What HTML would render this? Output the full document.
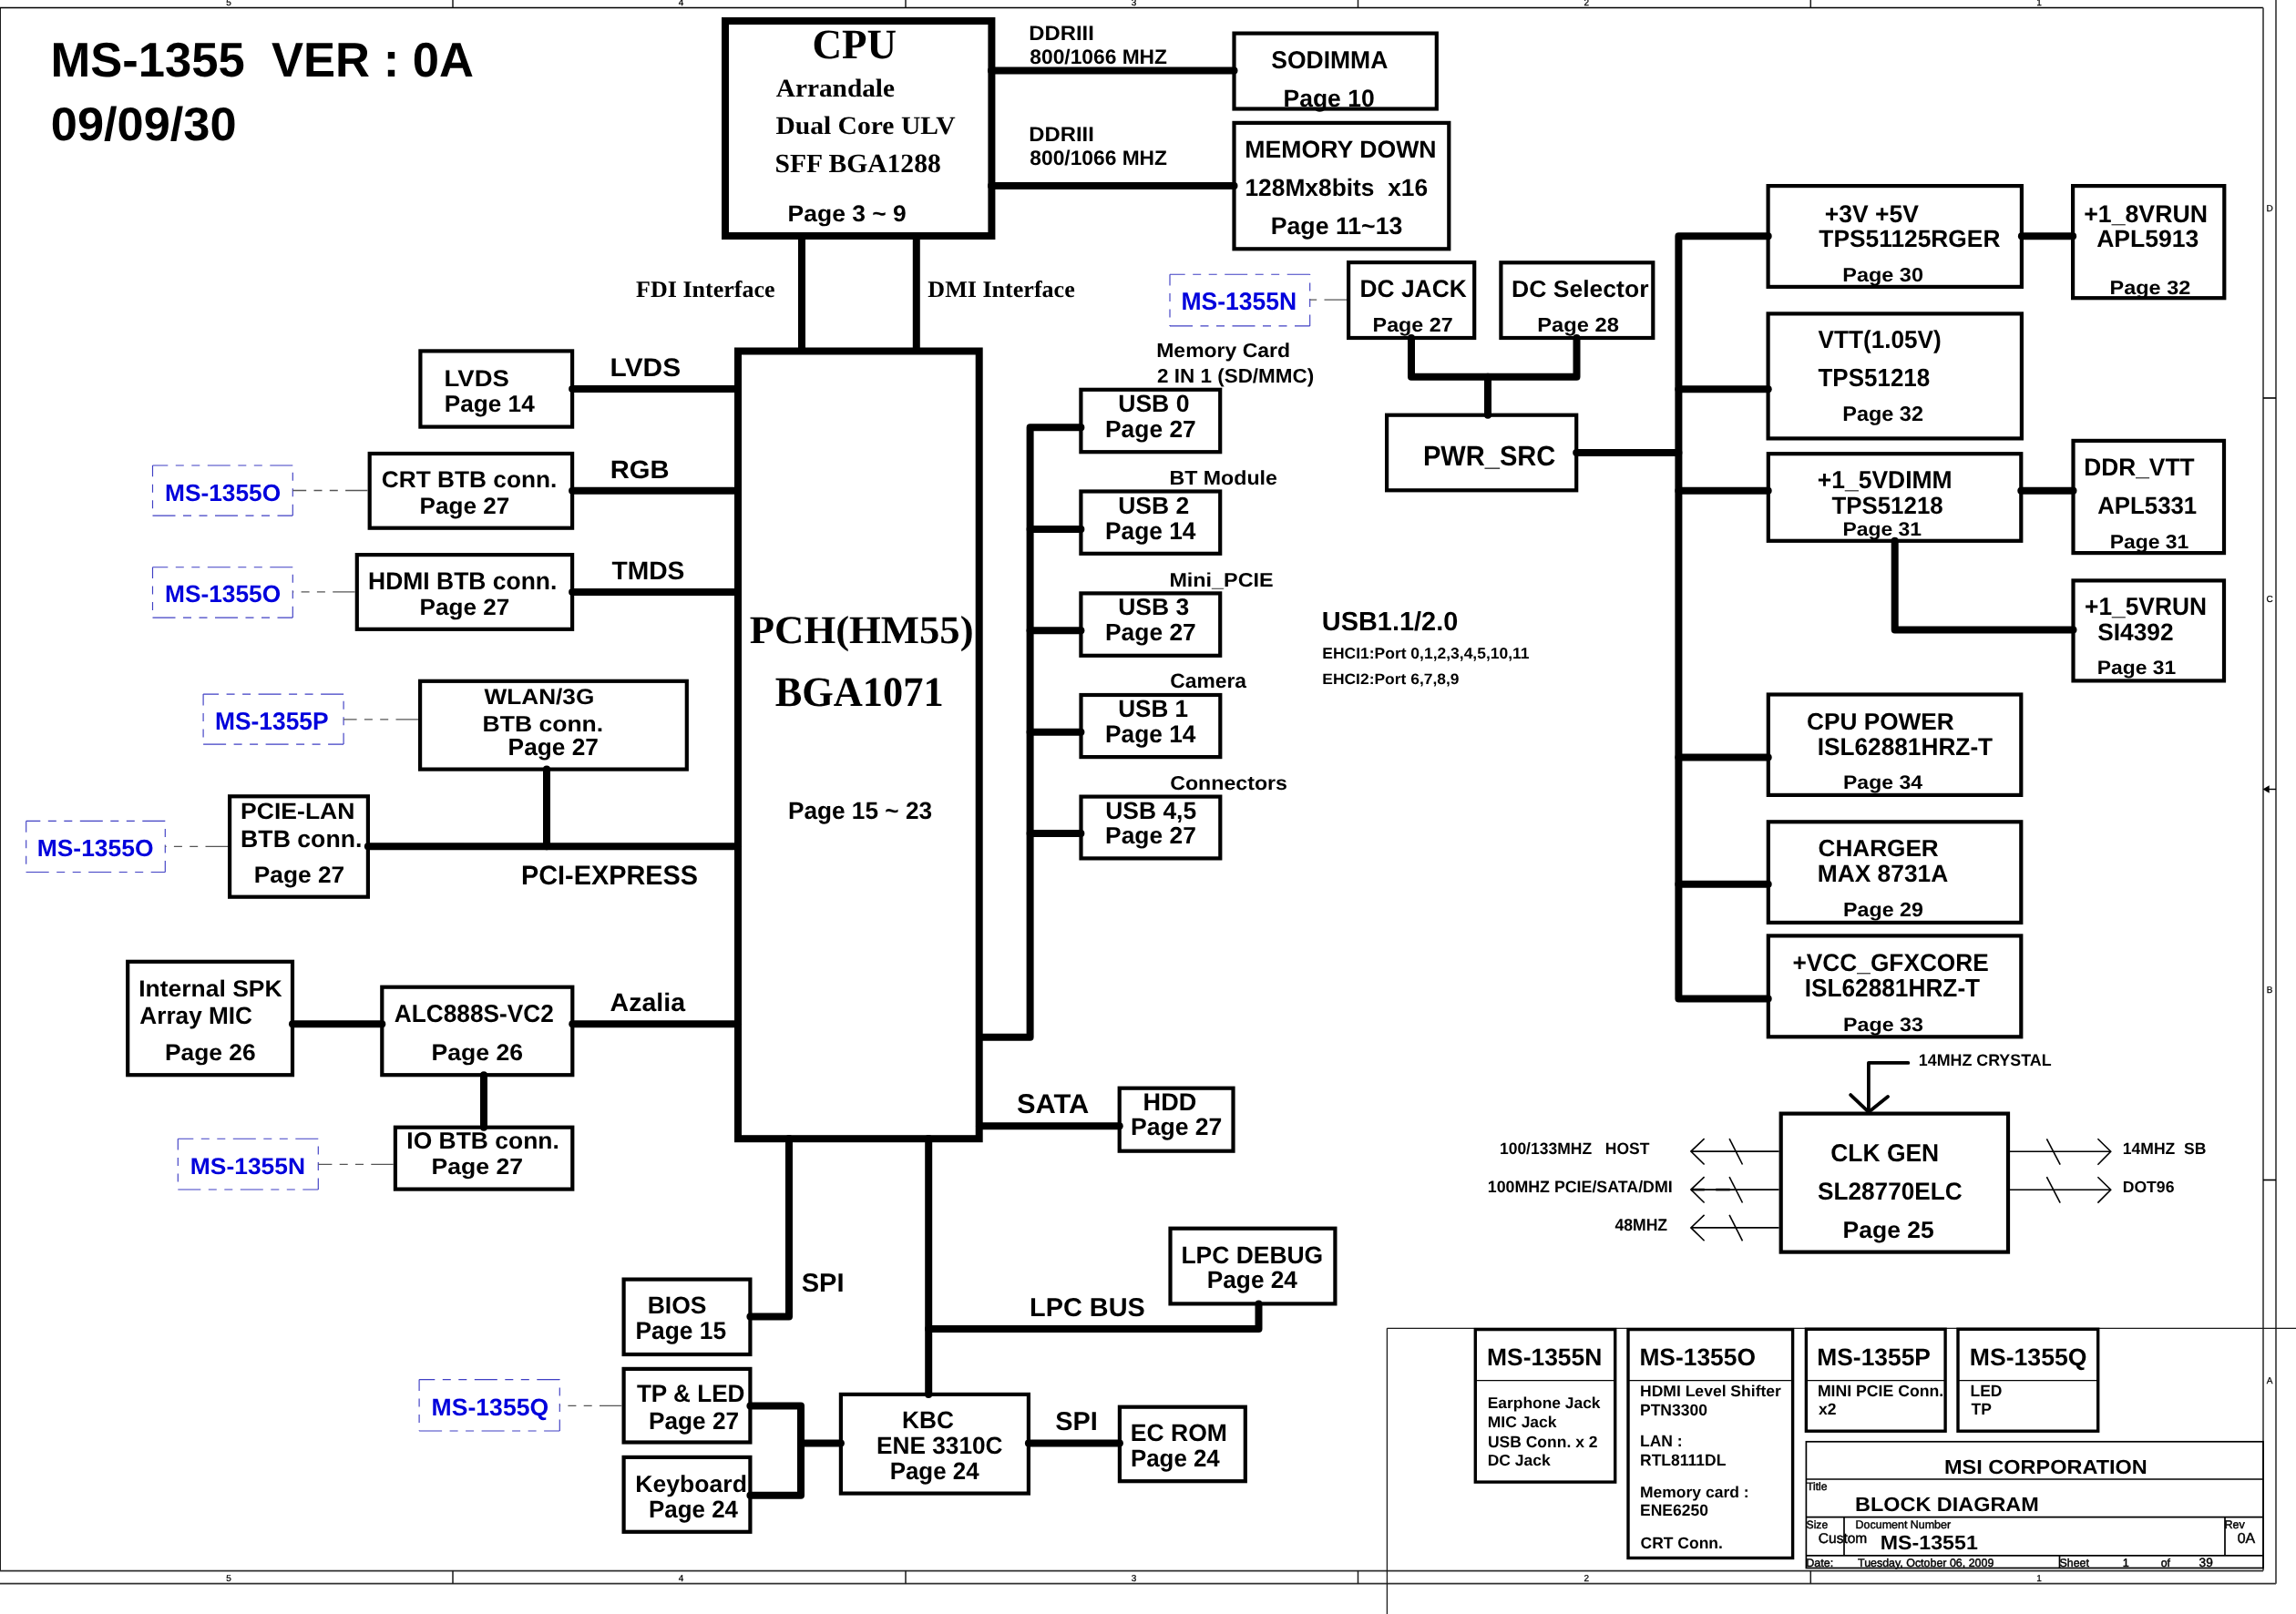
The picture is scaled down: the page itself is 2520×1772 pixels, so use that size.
<!DOCTYPE html>
<html><head><meta charset="utf-8"><title>MS-1355 Block Diagram</title>
<style>html,body{margin:0;padding:0;background:#fff;}svg{display:block;white-space:pre;will-change:transform;}</style></head>
<body><svg width="2520" height="1772" viewBox="0 0 2520 1772" text-rendering="geometricPrecision">
<rect x="0" y="0" width="2520" height="1772" fill="#fff"/>
<line x1="0" y1="8.45" x2="2484" y2="8.45" stroke="#000" stroke-width="1.35" stroke-linecap="butt" />
<line x1="0.45" y1="8" x2="0.45" y2="1724.8" stroke="#000" stroke-width="0.95" stroke-linecap="butt" />
<line x1="0" y1="1724.6" x2="2484" y2="1724.6" stroke="#303030" stroke-width="1.6" stroke-linecap="butt" />
<line x1="0" y1="1738.7" x2="2498" y2="1738.7" stroke="#303030" stroke-width="1.8" stroke-linecap="butt" />
<line x1="2484" y1="8.5" x2="2484" y2="1724.6" stroke="#4a4a4a" stroke-width="1.8" stroke-linecap="butt" />
<line x1="2498" y1="0" x2="2498" y2="1738.7" stroke="#4a4a4a" stroke-width="1.8" stroke-linecap="butt" />
<line x1="497" y1="0" x2="497" y2="8.5" stroke="#1a1a1a" stroke-width="1.5" stroke-linecap="butt" />
<line x1="497" y1="1724.6" x2="497" y2="1738.7" stroke="#1a1a1a" stroke-width="1.5" stroke-linecap="butt" />
<line x1="994" y1="0" x2="994" y2="8.5" stroke="#1a1a1a" stroke-width="1.5" stroke-linecap="butt" />
<line x1="994" y1="1724.6" x2="994" y2="1738.7" stroke="#1a1a1a" stroke-width="1.5" stroke-linecap="butt" />
<line x1="1490.5" y1="0" x2="1490.5" y2="8.5" stroke="#1a1a1a" stroke-width="1.5" stroke-linecap="butt" />
<line x1="1490.5" y1="1724.6" x2="1490.5" y2="1738.7" stroke="#1a1a1a" stroke-width="1.5" stroke-linecap="butt" />
<line x1="1987.3" y1="0" x2="1987.3" y2="8.5" stroke="#1a1a1a" stroke-width="1.5" stroke-linecap="butt" />
<line x1="1987.3" y1="1724.6" x2="1987.3" y2="1738.7" stroke="#1a1a1a" stroke-width="1.5" stroke-linecap="butt" />
<line x1="2484" y1="437" x2="2498" y2="437" stroke="#000" stroke-width="1.6" stroke-linecap="butt" />
<line x1="2484" y1="1295.5" x2="2498" y2="1295.5" stroke="#000" stroke-width="1.6" stroke-linecap="butt" />
<line x1="2490" y1="866.5" x2="2498" y2="866.5" stroke="#000" stroke-width="1.4" stroke-linecap="butt" />
<polygon points="2483.5,866.5 2490.7,862.3 2490.7,870.7" fill="#000"/>
<text x="251" y="1736.3" font-family="Liberation Sans" font-size="10" text-anchor="middle" fill="#000" stroke="#000" stroke-width="0.25">5</text>
<text x="251" y="5.6" font-family="Liberation Sans" font-size="10" text-anchor="middle" fill="#000" stroke="#000" stroke-width="0.25">5</text>
<text x="747.5" y="1736.3" font-family="Liberation Sans" font-size="10" text-anchor="middle" fill="#000" stroke="#000" stroke-width="0.25">4</text>
<text x="747.5" y="5.6" font-family="Liberation Sans" font-size="10" text-anchor="middle" fill="#000" stroke="#000" stroke-width="0.25">4</text>
<text x="1244.5" y="1736.3" font-family="Liberation Sans" font-size="10" text-anchor="middle" fill="#000" stroke="#000" stroke-width="0.25">3</text>
<text x="1244.5" y="5.6" font-family="Liberation Sans" font-size="10" text-anchor="middle" fill="#000" stroke="#000" stroke-width="0.25">3</text>
<text x="1741.3" y="1736.3" font-family="Liberation Sans" font-size="10" text-anchor="middle" fill="#000" stroke="#000" stroke-width="0.25">2</text>
<text x="1741.3" y="5.6" font-family="Liberation Sans" font-size="10" text-anchor="middle" fill="#000" stroke="#000" stroke-width="0.25">2</text>
<text x="2238" y="1736.3" font-family="Liberation Sans" font-size="10" text-anchor="middle" fill="#000" stroke="#000" stroke-width="0.25">1</text>
<text x="2238" y="5.6" font-family="Liberation Sans" font-size="10" text-anchor="middle" fill="#000" stroke="#000" stroke-width="0.25">1</text>
<text x="2491" y="232.4" font-family="Liberation Sans" font-size="10" text-anchor="middle" fill="#000" stroke="#000" stroke-width="0.25">D</text>
<text x="2491" y="660.7" font-family="Liberation Sans" font-size="10" text-anchor="middle" fill="#000" stroke="#000" stroke-width="0.25">C</text>
<text x="2491" y="1090.3" font-family="Liberation Sans" font-size="10" text-anchor="middle" fill="#000" stroke="#000" stroke-width="0.25">B</text>
<text x="2491" y="1519.1" font-family="Liberation Sans" font-size="10" text-anchor="middle" fill="#000" stroke="#000" stroke-width="0.25">A</text>
<line x1="1522.4" y1="1458.3" x2="2520" y2="1458.3" stroke="#1a1a1a" stroke-width="1.3" stroke-linecap="butt" />
<line x1="1522.4" y1="1458.3" x2="1522.4" y2="1772" stroke="#1a1a1a" stroke-width="1.3" stroke-linecap="butt" />
<rect x="796.00" y="23.00" width="292.40" height="236.00" fill="none" stroke="#000" stroke-width="8"/>
<rect x="810.00" y="385.50" width="264.70" height="864.70" fill="none" stroke="#000" stroke-width="8"/>
<rect x="1354.50" y="36.60" width="222.30" height="82.90" fill="none" stroke="#000" stroke-width="4.2"/>
<rect x="1354.50" y="134.90" width="235.80" height="138.40" fill="none" stroke="#000" stroke-width="4.2"/>
<rect x="1480.10" y="288.10" width="138.10" height="82.90" fill="none" stroke="#000" stroke-width="4.2"/>
<rect x="1647.40" y="288.30" width="166.90" height="82.70" fill="none" stroke="#000" stroke-width="4.2"/>
<rect x="1522.10" y="455.70" width="208.10" height="82.60" fill="none" stroke="#000" stroke-width="4.2"/>
<rect x="1940.60" y="204.10" width="278.30" height="110.80" fill="none" stroke="#000" stroke-width="4.2"/>
<rect x="2275.10" y="204.10" width="166.20" height="123.10" fill="none" stroke="#000" stroke-width="4.2"/>
<rect x="1940.60" y="344.40" width="278.30" height="137.00" fill="none" stroke="#000" stroke-width="4.2"/>
<rect x="1940.80" y="498.20" width="277.50" height="95.60" fill="none" stroke="#000" stroke-width="4.2"/>
<rect x="2275.50" y="483.90" width="165.50" height="123.20" fill="none" stroke="#000" stroke-width="4.2"/>
<rect x="2275.50" y="637.40" width="165.50" height="110.00" fill="none" stroke="#000" stroke-width="4.2"/>
<rect x="1940.80" y="762.50" width="277.50" height="110.40" fill="none" stroke="#000" stroke-width="4.2"/>
<rect x="1940.80" y="902.30" width="277.50" height="110.60" fill="none" stroke="#000" stroke-width="4.2"/>
<rect x="1940.80" y="1027.40" width="277.50" height="110.90" fill="none" stroke="#000" stroke-width="4.2"/>
<rect x="1954.70" y="1222.60" width="249.30" height="152.00" fill="none" stroke="#000" stroke-width="4.2"/>
<rect x="461.40" y="385.40" width="166.70" height="83.20" fill="none" stroke="#000" stroke-width="4.2"/>
<rect x="405.70" y="498.00" width="222.40" height="81.70" fill="none" stroke="#000" stroke-width="4.2"/>
<rect x="391.80" y="609.10" width="236.30" height="81.70" fill="none" stroke="#000" stroke-width="4.2"/>
<rect x="461.10" y="747.80" width="292.70" height="96.80" fill="none" stroke="#000" stroke-width="4.2"/>
<rect x="252.10" y="874.30" width="151.80" height="110.40" fill="none" stroke="#000" stroke-width="4.2"/>
<rect x="140.20" y="1055.80" width="180.80" height="124.40" fill="none" stroke="#000" stroke-width="4.2"/>
<rect x="419.30" y="1083.70" width="209.00" height="96.50" fill="none" stroke="#000" stroke-width="4.2"/>
<rect x="433.90" y="1237.70" width="194.40" height="67.90" fill="none" stroke="#000" stroke-width="4.2"/>
<rect x="1186.40" y="427.80" width="152.80" height="68.40" fill="none" stroke="#000" stroke-width="4.2"/>
<rect x="1186.40" y="539.50" width="152.80" height="68.30" fill="none" stroke="#000" stroke-width="4.2"/>
<rect x="1186.40" y="651.40" width="152.80" height="68.40" fill="none" stroke="#000" stroke-width="4.2"/>
<rect x="1186.50" y="763.00" width="152.80" height="68.10" fill="none" stroke="#000" stroke-width="4.2"/>
<rect x="1186.50" y="874.60" width="152.80" height="67.80" fill="none" stroke="#000" stroke-width="4.2"/>
<rect x="1228.70" y="1194.70" width="124.80" height="69.00" fill="none" stroke="#000" stroke-width="4.2"/>
<rect x="1284.50" y="1348.70" width="180.90" height="82.70" fill="none" stroke="#000" stroke-width="4.2"/>
<rect x="684.60" y="1404.60" width="138.80" height="82.40" fill="none" stroke="#000" stroke-width="4.2"/>
<rect x="684.60" y="1502.90" width="138.80" height="80.60" fill="none" stroke="#000" stroke-width="4.2"/>
<rect x="684.60" y="1599.90" width="138.80" height="81.90" fill="none" stroke="#000" stroke-width="4.2"/>
<rect x="922.90" y="1530.90" width="206.00" height="108.70" fill="none" stroke="#000" stroke-width="4.2"/>
<rect x="1228.90" y="1544.70" width="137.90" height="81.50" fill="none" stroke="#000" stroke-width="4.2"/>
<rect x="1619.30" y="1459.60" width="153.40" height="167.50" fill="none" stroke="#000" stroke-width="3.4"/>
<line x1="1619.6" y1="1515.6" x2="1772.4" y2="1515.6" stroke="#000" stroke-width="1.3" stroke-linecap="butt" />
<rect x="1787.00" y="1459.60" width="180.60" height="250.90" fill="none" stroke="#000" stroke-width="3.4"/>
<line x1="1787.3" y1="1515.6" x2="1967.3" y2="1515.6" stroke="#000" stroke-width="1.3" stroke-linecap="butt" />
<rect x="1982.40" y="1459.30" width="152.70" height="111.90" fill="none" stroke="#000" stroke-width="3.4"/>
<line x1="1982.7" y1="1515.6" x2="2134.8" y2="1515.6" stroke="#000" stroke-width="1.3" stroke-linecap="butt" />
<rect x="2149.00" y="1459.30" width="153.70" height="111.90" fill="none" stroke="#000" stroke-width="3.4"/>
<line x1="2149.3" y1="1515.6" x2="2302.4" y2="1515.6" stroke="#000" stroke-width="1.3" stroke-linecap="butt" />
<rect x="1982.4" y="1582.8" width="501.5999999999999" height="138.70000000000005" fill="none" stroke="#000" stroke-width="1.7"/>
<line x1="1982.4" y1="1624" x2="2484" y2="1624" stroke="#000" stroke-width="1.7" stroke-linecap="butt" />
<line x1="1982.4" y1="1665.7" x2="2484" y2="1665.7" stroke="#000" stroke-width="1.7" stroke-linecap="butt" />
<line x1="1982.4" y1="1707.8" x2="2484" y2="1707.8" stroke="#000" stroke-width="1.7" stroke-linecap="butt" />
<line x1="2024" y1="1665.7" x2="2024" y2="1707.8" stroke="#000" stroke-width="1.7" stroke-linecap="butt" />
<line x1="2442" y1="1665.7" x2="2442" y2="1707.8" stroke="#000" stroke-width="1.7" stroke-linecap="butt" />
<line x1="2260.5" y1="1707.8" x2="2260.5" y2="1721.5" stroke="#000" stroke-width="1.7" stroke-linecap="butt" />
<line x1="1437.7" y1="301.2" x2="1284" y2="301.2" stroke="#3f3fc4" stroke-width="1.15" stroke-dasharray="25 8.5 9 8.5 9 8.5"/>
<line x1="1284" y1="357.9" x2="1437.7" y2="357.9" stroke="#3f3fc4" stroke-width="1.15" stroke-dasharray="25 8.5 9 8.5 9 8.5"/>
<line x1="1284" y1="301.2" x2="1284" y2="357.9" stroke="#3f3fc4" stroke-width="1.15" stroke-dasharray="25 8.5 9 8.5 9 8.5" stroke-dashoffset="12.7"/>
<line x1="1437.7" y1="357.9" x2="1437.7" y2="301.2" stroke="#3f3fc4" stroke-width="1.15" stroke-dasharray="25 8.5 9 8.5 9 8.5" stroke-dashoffset="12.6"/>
<line x1="1478" y1="329.1" x2="1437.7" y2="329.1" stroke="#555" stroke-width="1.3" stroke-dasharray="24.5 8.3 9 8.3 9 8.3"/>
<line x1="321.3" y1="511" x2="167.5" y2="511" stroke="#3f3fc4" stroke-width="1.15" stroke-dasharray="25 8.5 9 8.5 9 8.5"/>
<line x1="167.5" y1="566.1" x2="321.3" y2="566.1" stroke="#3f3fc4" stroke-width="1.15" stroke-dasharray="25 8.5 9 8.5 9 8.5"/>
<line x1="167.5" y1="511" x2="167.5" y2="566.1" stroke="#3f3fc4" stroke-width="1.15" stroke-dasharray="25 8.5 9 8.5 9 8.5" stroke-dashoffset="12.7"/>
<line x1="321.3" y1="566.1" x2="321.3" y2="511" stroke="#3f3fc4" stroke-width="1.15" stroke-dasharray="25 8.5 9 8.5 9 8.5" stroke-dashoffset="12.6"/>
<line x1="403.6" y1="538.5" x2="321.3" y2="538.5" stroke="#555" stroke-width="1.3" stroke-dasharray="24.5 8.3 9 8.3 9 8.3"/>
<line x1="321.3" y1="622.7" x2="167.5" y2="622.7" stroke="#3f3fc4" stroke-width="1.15" stroke-dasharray="25 8.5 9 8.5 9 8.5"/>
<line x1="167.5" y1="678.1" x2="321.3" y2="678.1" stroke="#3f3fc4" stroke-width="1.15" stroke-dasharray="25 8.5 9 8.5 9 8.5"/>
<line x1="167.5" y1="622.7" x2="167.5" y2="678.1" stroke="#3f3fc4" stroke-width="1.15" stroke-dasharray="25 8.5 9 8.5 9 8.5" stroke-dashoffset="12.7"/>
<line x1="321.3" y1="678.1" x2="321.3" y2="622.7" stroke="#3f3fc4" stroke-width="1.15" stroke-dasharray="25 8.5 9 8.5 9 8.5" stroke-dashoffset="12.6"/>
<line x1="389.7" y1="649.9" x2="321.3" y2="649.9" stroke="#555" stroke-width="1.3" stroke-dasharray="24.5 8.3 9 8.3 9 8.3"/>
<line x1="377.1" y1="762.1" x2="223.1" y2="762.1" stroke="#3f3fc4" stroke-width="1.15" stroke-dasharray="25 8.5 9 8.5 9 8.5"/>
<line x1="223.1" y1="817.1" x2="377.1" y2="817.1" stroke="#3f3fc4" stroke-width="1.15" stroke-dasharray="25 8.5 9 8.5 9 8.5"/>
<line x1="223.1" y1="762.1" x2="223.1" y2="817.1" stroke="#3f3fc4" stroke-width="1.15" stroke-dasharray="25 8.5 9 8.5 9 8.5" stroke-dashoffset="12.7"/>
<line x1="377.1" y1="817.1" x2="377.1" y2="762.1" stroke="#3f3fc4" stroke-width="1.15" stroke-dasharray="25 8.5 9 8.5 9 8.5" stroke-dashoffset="12.6"/>
<line x1="459" y1="789.9" x2="377.1" y2="789.9" stroke="#555" stroke-width="1.3" stroke-dasharray="24.5 8.3 9 8.3 9 8.3"/>
<line x1="181.3" y1="901.4" x2="28.7" y2="901.4" stroke="#3f3fc4" stroke-width="1.15" stroke-dasharray="25 8.5 9 8.5 9 8.5"/>
<line x1="28.7" y1="957.5" x2="181.3" y2="957.5" stroke="#3f3fc4" stroke-width="1.15" stroke-dasharray="25 8.5 9 8.5 9 8.5"/>
<line x1="28.7" y1="901.4" x2="28.7" y2="957.5" stroke="#3f3fc4" stroke-width="1.15" stroke-dasharray="25 8.5 9 8.5 9 8.5" stroke-dashoffset="12.7"/>
<line x1="181.3" y1="957.5" x2="181.3" y2="901.4" stroke="#3f3fc4" stroke-width="1.15" stroke-dasharray="25 8.5 9 8.5 9 8.5" stroke-dashoffset="12.6"/>
<line x1="250" y1="929.3" x2="181.3" y2="929.3" stroke="#555" stroke-width="1.3" stroke-dasharray="24.5 8.3 9 8.3 9 8.3"/>
<line x1="349.3" y1="1250.2" x2="195.3" y2="1250.2" stroke="#3f3fc4" stroke-width="1.15" stroke-dasharray="25 8.5 9 8.5 9 8.5"/>
<line x1="195.3" y1="1306" x2="349.3" y2="1306" stroke="#3f3fc4" stroke-width="1.15" stroke-dasharray="25 8.5 9 8.5 9 8.5"/>
<line x1="195.3" y1="1250.2" x2="195.3" y2="1306" stroke="#3f3fc4" stroke-width="1.15" stroke-dasharray="25 8.5 9 8.5 9 8.5" stroke-dashoffset="12.7"/>
<line x1="349.3" y1="1306" x2="349.3" y2="1250.2" stroke="#3f3fc4" stroke-width="1.15" stroke-dasharray="25 8.5 9 8.5 9 8.5" stroke-dashoffset="12.6"/>
<line x1="431.8" y1="1278.4" x2="349.3" y2="1278.4" stroke="#555" stroke-width="1.3" stroke-dasharray="24.5 8.3 9 8.3 9 8.3"/>
<line x1="614.3" y1="1514.6" x2="460.1" y2="1514.6" stroke="#3f3fc4" stroke-width="1.15" stroke-dasharray="25 8.5 9 8.5 9 8.5"/>
<line x1="460.1" y1="1571" x2="614.3" y2="1571" stroke="#3f3fc4" stroke-width="1.15" stroke-dasharray="25 8.5 9 8.5 9 8.5"/>
<line x1="460.1" y1="1514.6" x2="460.1" y2="1571" stroke="#3f3fc4" stroke-width="1.15" stroke-dasharray="25 8.5 9 8.5 9 8.5" stroke-dashoffset="12.7"/>
<line x1="614.3" y1="1571" x2="614.3" y2="1514.6" stroke="#3f3fc4" stroke-width="1.15" stroke-dasharray="25 8.5 9 8.5 9 8.5" stroke-dashoffset="12.6"/>
<line x1="682.5" y1="1543.4" x2="614.3" y2="1543.4" stroke="#555" stroke-width="1.3" stroke-dasharray="24.5 8.3 9 8.3 9 8.3"/>
<polyline points="1088,77.6 1354.5,77.6" fill="none" stroke="#000" stroke-width="8" stroke-linecap="round" stroke-linejoin="round"/>
<polyline points="1088,204 1354.5,204" fill="none" stroke="#000" stroke-width="8" stroke-linecap="round" stroke-linejoin="round"/>
<polyline points="880,260 880,385" fill="none" stroke="#000" stroke-width="8" stroke-linecap="butt" stroke-linejoin="round"/>
<polyline points="1005.8,260 1005.8,385" fill="none" stroke="#000" stroke-width="8" stroke-linecap="butt" stroke-linejoin="round"/>
<polyline points="628.1,427 810,427" fill="none" stroke="#000" stroke-width="8" stroke-linecap="round" stroke-linejoin="round"/>
<polyline points="628.1,538.8 810,538.8" fill="none" stroke="#000" stroke-width="8" stroke-linecap="round" stroke-linejoin="round"/>
<polyline points="628.1,650 810,650" fill="none" stroke="#000" stroke-width="8" stroke-linecap="round" stroke-linejoin="round"/>
<polyline points="600,844.6 600,929.3" fill="none" stroke="#000" stroke-width="8" stroke-linecap="round" stroke-linejoin="round"/>
<polyline points="403.9,929.3 810,929.3" fill="none" stroke="#000" stroke-width="8" stroke-linecap="round" stroke-linejoin="round"/>
<polyline points="321,1124.3 419.3,1124.3" fill="none" stroke="#000" stroke-width="8" stroke-linecap="round" stroke-linejoin="round"/>
<polyline points="628.3,1124.3 810,1124.3" fill="none" stroke="#000" stroke-width="8" stroke-linecap="round" stroke-linejoin="round"/>
<polyline points="531,1180.2 531,1237.7" fill="none" stroke="#000" stroke-width="8" stroke-linecap="round" stroke-linejoin="round"/>
<polyline points="1186.4,469.2 1130.6,469.2 1130.6,1138.7 1075,1138.7" fill="none" stroke="#000" stroke-width="8" stroke-linecap="round" stroke-linejoin="round"/>
<polyline points="1130.6,580.9 1186.4,580.9" fill="none" stroke="#000" stroke-width="8" stroke-linecap="round" stroke-linejoin="round"/>
<polyline points="1130.6,692.3 1186.4,692.3" fill="none" stroke="#000" stroke-width="8" stroke-linecap="round" stroke-linejoin="round"/>
<polyline points="1130.6,803.8 1186.4,803.8" fill="none" stroke="#000" stroke-width="8" stroke-linecap="round" stroke-linejoin="round"/>
<polyline points="1130.6,914.9 1186.4,914.9" fill="none" stroke="#000" stroke-width="8" stroke-linecap="round" stroke-linejoin="round"/>
<polyline points="1075,1236.2 1228.7,1236.2" fill="none" stroke="#000" stroke-width="8" stroke-linecap="round" stroke-linejoin="round"/>
<polyline points="866,1250 866,1445.5 823.4,1445.5" fill="none" stroke="#000" stroke-width="8" stroke-linecap="round" stroke-linejoin="round"/>
<polyline points="1019.2,1250 1019.2,1530.9" fill="none" stroke="#000" stroke-width="8" stroke-linecap="round" stroke-linejoin="round"/>
<polyline points="1019.2,1459 1381.5,1459 1381.5,1431.4" fill="none" stroke="#000" stroke-width="8" stroke-linecap="round" stroke-linejoin="round"/>
<polyline points="823.4,1543.4 879,1543.4 879,1641.7 823.4,1641.7" fill="none" stroke="#000" stroke-width="8" stroke-linecap="round" stroke-linejoin="round"/>
<polyline points="879,1584.4 922.9,1584.4" fill="none" stroke="#000" stroke-width="8" stroke-linecap="round" stroke-linejoin="round"/>
<polyline points="1128.9,1584.4 1228.9,1584.4" fill="none" stroke="#000" stroke-width="8" stroke-linecap="round" stroke-linejoin="round"/>
<polyline points="1549,371 1549,413.8 1730.5,413.8 1730.5,371" fill="none" stroke="#000" stroke-width="8" stroke-linecap="round" stroke-linejoin="round"/>
<polyline points="1633,413.8 1633,455.7" fill="none" stroke="#000" stroke-width="8" stroke-linecap="round" stroke-linejoin="round"/>
<polyline points="1730.2,496.9 1842.4,496.9" fill="none" stroke="#000" stroke-width="8" stroke-linecap="round" stroke-linejoin="round"/>
<polyline points="1940.7,259.3 1842.4,259.3 1842.4,1096.6 1940.7,1096.6" fill="none" stroke="#000" stroke-width="8" stroke-linecap="round" stroke-linejoin="round"/>
<polyline points="1842.4,427.2 1940.7,427.2" fill="none" stroke="#000" stroke-width="8" stroke-linecap="round" stroke-linejoin="round"/>
<polyline points="1842.4,538.8 1940.7,538.8" fill="none" stroke="#000" stroke-width="8" stroke-linecap="round" stroke-linejoin="round"/>
<polyline points="1842.4,831.5 1940.7,831.5" fill="none" stroke="#000" stroke-width="8" stroke-linecap="round" stroke-linejoin="round"/>
<polyline points="1842.4,970.7 1940.7,970.7" fill="none" stroke="#000" stroke-width="8" stroke-linecap="round" stroke-linejoin="round"/>
<polyline points="2218.9,259.3 2275.1,259.3" fill="none" stroke="#000" stroke-width="8" stroke-linecap="round" stroke-linejoin="round"/>
<polyline points="2218.3,538.8 2275.5,538.8" fill="none" stroke="#000" stroke-width="8" stroke-linecap="round" stroke-linejoin="round"/>
<polyline points="2079.7,593.8 2079.7,691.6 2275.5,691.6" fill="none" stroke="#000" stroke-width="8" stroke-linecap="round" stroke-linejoin="round"/>
<line x1="1855.9" y1="1264.1" x2="1952.6" y2="1264.1" stroke="#000" stroke-width="1.6" stroke-linecap="butt" />
<polyline points="1870.6,1250.1 1855.9,1264.1 1870.6,1278.5" fill="none" stroke="#000" stroke-width="1.6" stroke-linecap="butt" stroke-linejoin="miter"/>
<line x1="1898.1" y1="1250.1" x2="1912.5" y2="1278.5" stroke="#000" stroke-width="1.6" stroke-linecap="butt" />
<line x1="1855.9" y1="1306.1" x2="1952.6" y2="1306.1" stroke="#000" stroke-width="1.6" stroke-linecap="butt" />
<polyline points="1870.6,1292.1 1855.9,1306.1 1870.6,1320.5" fill="none" stroke="#000" stroke-width="1.6" stroke-linecap="butt" stroke-linejoin="miter"/>
<line x1="1898.1" y1="1292.1" x2="1912.5" y2="1320.5" stroke="#000" stroke-width="1.6" stroke-linecap="butt" />
<line x1="1855.9" y1="1347.9" x2="1952.6" y2="1347.9" stroke="#000" stroke-width="1.6" stroke-linecap="butt" />
<polyline points="1870.6,1333.9 1855.9,1347.9 1870.6,1362.3000000000002" fill="none" stroke="#000" stroke-width="1.6" stroke-linecap="butt" stroke-linejoin="miter"/>
<line x1="1898.1" y1="1333.9" x2="1912.5" y2="1362.3000000000002" stroke="#000" stroke-width="1.6" stroke-linecap="butt" />
<line x1="2206" y1="1264.3" x2="2316.7" y2="1264.3" stroke="#000" stroke-width="1.6" stroke-linecap="butt" />
<polyline points="2302.4,1250.3 2316.7,1264.3 2302.4,1278.7" fill="none" stroke="#000" stroke-width="1.6" stroke-linecap="butt" stroke-linejoin="miter"/>
<line x1="2246.4" y1="1250.3" x2="2261.2" y2="1278.7" stroke="#000" stroke-width="1.6" stroke-linecap="butt" />
<line x1="2206" y1="1306.2" x2="2316.7" y2="1306.2" stroke="#000" stroke-width="1.6" stroke-linecap="butt" />
<polyline points="2302.4,1292.2 2316.7,1306.2 2302.4,1320.6000000000001" fill="none" stroke="#000" stroke-width="1.6" stroke-linecap="butt" stroke-linejoin="miter"/>
<line x1="2246.4" y1="1292.2" x2="2261.2" y2="1320.6000000000001" stroke="#000" stroke-width="1.6" stroke-linecap="butt" />
<line x1="1856" y1="1306.1" x2="1870.8" y2="1306.1" stroke="#000" stroke-width="2.6" stroke-linecap="butt" />
<line x1="1883.2" y1="1306.1" x2="1898.8" y2="1306.1" stroke="#000" stroke-width="2.6" stroke-linecap="butt" />
<polyline points="2094.4,1166.9 2050.9,1166.9 2050.9,1221" fill="none" stroke="#000" stroke-width="3.8" stroke-linecap="round" stroke-linejoin="round"/>
<polyline points="2031.2,1202.1 2050.9,1220.9 2072,1204" fill="none" stroke="#000" stroke-width="3.8" stroke-linecap="round" stroke-linejoin="round"/>
<text transform="translate(55.5 83.8) scale(1 1.0135302347271877)" font-family="Liberation Sans" font-weight="bold" font-size="52.57" fill="#000">MS-1355  VER : 0A</text>
<text transform="translate(55.8 154.1) scale(1 0.9872116349047138)" font-family="Liberation Sans" font-weight="bold" font-size="52.34" fill="#000">09/09/30</text>
<text transform="translate(891.5 64.3) scale(1 1.025784753363228)" font-family="Liberation Serif" font-weight="bold" font-size="45.05" fill="#000">CPU</text>
<text transform="translate(851.7 105.9) scale(1 0.9582017337544527)" font-family="Liberation Serif" font-weight="bold" font-size="29.34" fill="#000">Arrandale</text>
<text transform="translate(851.4 147.0) scale(1 0.9456595531154989)" font-family="Liberation Serif" font-weight="bold" font-size="29.58" fill="#000">Dual Core ULV</text>
<text transform="translate(850.5 188.8) scale(1 0.9877658049611302)" font-family="Liberation Serif" font-weight="bold" font-size="29.60" fill="#000">SFF BGA1288</text>
<text transform="translate(864.6 242.5) scale(1 0.9554146560430936)" font-family="Liberation Sans" font-weight="bold" font-size="26.47" fill="#000">Page 3 ~ 9</text>
<text transform="translate(1129.3 43.8) scale(1 0.9481065918653568)" font-family="Liberation Sans" font-weight="bold" font-size="23.85" fill="#000">DDRIII</text>
<text transform="translate(1130.3 69.8) scale(1 0.9872909698996655)" font-family="Liberation Sans" font-weight="bold" font-size="22.79" fill="#000">800/1066 MHZ</text>
<text transform="translate(1129.3 154.8) scale(1 0.9481065918653577)" font-family="Liberation Sans" font-weight="bold" font-size="23.85" fill="#000">DDRIII</text>
<text transform="translate(1130.3 180.9) scale(1 0.9933853586027499)" font-family="Liberation Sans" font-weight="bold" font-size="22.79" fill="#000">800/1066 MHZ</text>
<text transform="translate(1395.2 74.7) scale(1 1.0234895539243367)" font-family="Liberation Sans" font-weight="bold" font-size="26.52" fill="#000">SODIMMA</text>
<text transform="translate(1408.5 117.0) scale(1 1.0086566725455637)" font-family="Liberation Sans" font-weight="bold" font-size="26.49" fill="#000">Page 10</text>
<text transform="translate(1366.3 173.0) scale(1 1.002108975245472)" font-family="Liberation Sans" font-weight="bold" font-size="26.66" fill="#000">MEMORY DOWN</text>
<text transform="translate(1366.4 215.0) scale(1 1.0065029711851108)" font-family="Liberation Sans" font-weight="bold" font-size="26.36" fill="#000">128Mx8bits  x16</text>
<text transform="translate(1394.7 256.9) scale(1 1.001078737775984)" font-family="Liberation Sans" font-weight="bold" font-size="26.69" fill="#000">Page 11~13</text>
<text transform="translate(698.1 325.9) scale(1 0.9826058201058187)" font-family="Liberation Serif" font-weight="bold" font-size="26.02" fill="#000">FDI Interface</text>
<text transform="translate(1018.3 325.9) scale(1 0.9804506590666169)" font-family="Liberation Serif" font-weight="bold" font-size="26.08" fill="#000">DMI Interface</text>
<text transform="translate(1296.4 340.4) scale(1 1.0230938841824284)" font-family="Liberation Sans" font-weight="bold" font-size="26.53" fill="#0000dc">MS-1355N</text>
<text transform="translate(1492.6 325.9) scale(1 1.019122218077833)" font-family="Liberation Sans" font-weight="bold" font-size="26.35" fill="#000">DC JACK</text>
<text transform="translate(1506.6 363.8) scale(1 0.9370994659546071)" font-family="Liberation Sans" font-weight="bold" font-size="23.32" fill="#000">Page 27</text>
<text transform="translate(1659.0 325.9) scale(1 0.9779014844804319)" font-family="Liberation Sans" font-weight="bold" font-size="26.56" fill="#000">DC Selector</text>
<text transform="translate(1687.3 363.8) scale(1 0.9213549337260684)" font-family="Liberation Sans" font-weight="bold" font-size="23.72" fill="#000">Page 28</text>
<text transform="translate(1269.2 391.8) scale(1 0.9423567617722112)" font-family="Liberation Sans" font-weight="bold" font-size="22.99" fill="#000">Memory Card</text>
<text transform="translate(1270.1 419.6) scale(1 0.9656488549618332)" font-family="Liberation Sans" font-weight="bold" font-size="22.44" fill="#000">2 IN 1 (SD/MMC)</text>
<text transform="translate(1561.9 511.2) scale(1 1.0553997194950915)" font-family="Liberation Sans" font-weight="bold" font-size="29.10" fill="#000">PWR_SRC</text>
<text transform="translate(2002.8 243.7) scale(1 1.019469026548674)" font-family="Liberation Sans" font-weight="bold" font-size="26.48" fill="#000">+3V +5V</text>
<text transform="translate(1996.3 271.2) scale(1 1.0084821428571416)" font-family="Liberation Sans" font-weight="bold" font-size="26.35" fill="#000">TPS51125RGER</text>
<text transform="translate(2022.3 308.9) scale(1 0.9194790111166401)" font-family="Liberation Sans" font-weight="bold" font-size="23.46" fill="#000">Page 30</text>
<text transform="translate(2287.2 243.7) scale(1 1.0109774436090224)" font-family="Liberation Sans" font-weight="bold" font-size="26.71" fill="#000">+1_8VRUN</text>
<text transform="translate(2301.2 271.2) scale(1 1.0003361344537807)" font-family="Liberation Sans" font-weight="bold" font-size="26.56" fill="#000">APL5913</text>
<text transform="translate(2315.6 322.7) scale(1 0.9073004811680712)" font-family="Liberation Sans" font-weight="bold" font-size="23.46" fill="#000">Page 32</text>
<text transform="translate(1995.5 381.9) scale(1 1.0396528815811306)" font-family="Liberation Sans" font-weight="bold" font-size="26.18" fill="#000">VTT(1.05V)</text>
<text transform="translate(1995.5 423.7) scale(1 1.0671592775041037)" font-family="Liberation Sans" font-weight="bold" font-size="25.97" fill="#000">TPS51218</text>
<text transform="translate(2022.3 461.8) scale(1 0.9742823958851838)" font-family="Liberation Sans" font-weight="bold" font-size="23.46" fill="#000">Page 32</text>
<text transform="translate(1994.8 535.8) scale(1 1.0344889581398096)" font-family="Liberation Sans" font-weight="bold" font-size="26.48" fill="#000">+1_5VDIMM</text>
<text transform="translate(2010.4 563.9) scale(1 1.0210049423393714)" font-family="Liberation Sans" font-weight="bold" font-size="25.88" fill="#000">TPS51218</text>
<text transform="translate(2022.4 587.5) scale(1 0.9218686526743389)" font-family="Liberation Sans" font-weight="bold" font-size="22.93" fill="#000">Page 31</text>
<text transform="translate(2287.3 522.0) scale(1 1.0252984339064741)" font-family="Liberation Sans" font-weight="bold" font-size="26.29" fill="#000">DDR_VTT</text>
<text transform="translate(2302.2 563.9) scale(1 1.024229952203927)" font-family="Liberation Sans" font-weight="bold" font-size="25.80" fill="#000">APL5331</text>
<text transform="translate(2315.7 601.6) scale(1 0.9343263371699461)" font-family="Liberation Sans" font-weight="bold" font-size="22.93" fill="#000">Page 31</text>
<text transform="translate(2288.0 674.8) scale(1 1.0397004241781478)" font-family="Liberation Sans" font-weight="bold" font-size="26.35" fill="#000">+1_5VRUN</text>
<text transform="translate(2302.2 702.7) scale(1 1.010692375109557)" font-family="Liberation Sans" font-weight="bold" font-size="26.29" fill="#000">SI4392</text>
<text transform="translate(2301.7 740.3) scale(1 0.924058364438414)" font-family="Liberation Sans" font-weight="bold" font-size="22.88" fill="#000">Page 31</text>
<text transform="translate(1983.0 800.8) scale(1 0.9912499999999989)" font-family="Liberation Sans" font-weight="bold" font-size="26.23" fill="#000">CPU POWER</text>
<text transform="translate(1994.7 828.7) scale(1 1.0289763779527572)" font-family="Liberation Sans" font-weight="bold" font-size="26.24" fill="#000">ISL62881HRZ-T</text>
<text transform="translate(2023.0 866.3) scale(1 0.9185011709601865)" font-family="Liberation Sans" font-weight="bold" font-size="23.02" fill="#000">Page 34</text>
<text transform="translate(1995.5 939.9) scale(1 0.9934150076569674)" font-family="Liberation Sans" font-weight="bold" font-size="26.17" fill="#000">CHARGER</text>
<text transform="translate(1994.7 967.7) scale(1 1.008206686930095)" font-family="Liberation Sans" font-weight="bold" font-size="26.36" fill="#000">MAX 8731A</text>
<text transform="translate(2023.0 1006.1) scale(1 0.9331549013047818)" font-family="Liberation Sans" font-weight="bold" font-size="23.27" fill="#000">Page 29</text>
<text transform="translate(1967.5 1066.0) scale(1 1.0278481012658172)" font-family="Liberation Sans" font-weight="bold" font-size="26.27" fill="#000">+VCC_GFXCORE</text>
<text transform="translate(1980.7 1093.9) scale(1 1.050753655793026)" font-family="Liberation Sans" font-weight="bold" font-size="26.24" fill="#000">ISL62881HRZ-T</text>
<text transform="translate(2023.0 1131.9) scale(1 0.90859819337571)" font-family="Liberation Sans" font-weight="bold" font-size="23.27" fill="#000">Page 33</text>
<text transform="translate(2105.8 1170.1) scale(1 1.0085991678224666)" font-family="Liberation Sans" font-weight="bold" font-size="17.85" fill="#000">14MHZ CRYSTAL</text>
<text transform="translate(2009.2 1275.0) scale(1 1.026331979820353)" font-family="Liberation Sans" font-weight="bold" font-size="26.45" fill="#000">CLK GEN</text>
<text transform="translate(1994.9 1317.1) scale(1 1.029879211697389)" font-family="Liberation Sans" font-weight="bold" font-size="26.22" fill="#000">SL28770ELC</text>
<text transform="translate(2022.6 1358.9) scale(1 0.9715459078908787)" font-family="Liberation Sans" font-weight="bold" font-size="26.47" fill="#000">Page 25</text>
<text transform="translate(1645.9 1267.0) scale(1 1.0225556235966455)" font-family="Liberation Sans" font-weight="bold" font-size="17.52" fill="#000">100/133MHZ   HOST</text>
<text transform="translate(1632.8 1308.8) scale(1 1.0147815977412435)" font-family="Liberation Sans" font-weight="bold" font-size="17.79" fill="#000">100MHZ PCIE/SATA/DMI</text>
<text transform="translate(1772.4 1351.2) scale(1 1.0461210143108306)" font-family="Liberation Sans" font-weight="bold" font-size="17.62" fill="#000">48MHZ</text>
<text transform="translate(2329.8 1267.3) scale(1 1.0099904549793148)" font-family="Liberation Sans" font-weight="bold" font-size="17.54" fill="#000">14MHZ  SB</text>
<text transform="translate(2329.7 1309.1) scale(1 0.9967792207792209)" font-family="Liberation Sans" font-weight="bold" font-size="17.63" fill="#000">DOT96</text>
<text transform="translate(1227.2 451.5) scale(1 0.9995080416272476)" font-family="Liberation Sans" font-weight="bold" font-size="26.58" fill="#000">USB 0</text>
<text transform="translate(1213.0 479.8) scale(1 0.9955476927613155)" font-family="Liberation Sans" font-weight="bold" font-size="26.40" fill="#000">Page 27</text>
<text transform="translate(1283.4 531.9) scale(1 0.9401534710269633)" font-family="Liberation Sans" font-weight="bold" font-size="23.19" fill="#000">BT Module</text>
<text transform="translate(1227.2 563.9) scale(1 0.9922421948912029)" font-family="Liberation Sans" font-weight="bold" font-size="26.49" fill="#000">USB 2</text>
<text transform="translate(1213.0 592.2) scale(1 1.0246792587312925)" font-family="Liberation Sans" font-weight="bold" font-size="26.31" fill="#000">Page 14</text>
<text transform="translate(1283.4 644.0) scale(1 0.9212424151994455)" font-family="Liberation Sans" font-weight="bold" font-size="23.37" fill="#000">Mini_PCIE</text>
<text transform="translate(1227.2 675.0) scale(1 0.9706717123935693)" font-family="Liberation Sans" font-weight="bold" font-size="26.49" fill="#000">USB 3</text>
<text transform="translate(1213.0 703.2) scale(1 0.9955476927613155)" font-family="Liberation Sans" font-weight="bold" font-size="26.40" fill="#000">Page 27</text>
<text transform="translate(1284.2 754.8) scale(1 0.969584697570217)" font-family="Liberation Sans" font-weight="bold" font-size="22.84" fill="#000">Camera</text>
<text transform="translate(1227.2 786.9) scale(1 1.0173264486517468)" font-family="Liberation Sans" font-weight="bold" font-size="26.12" fill="#000">USB 1</text>
<text transform="translate(1213.1 814.9) scale(1 1.025730211817166)" font-family="Liberation Sans" font-weight="bold" font-size="26.28" fill="#000">Page 14</text>
<text transform="translate(1284.2 866.6) scale(1 0.930565570076614)" font-family="Liberation Sans" font-weight="bold" font-size="23.18" fill="#000">Connectors</text>
<text transform="translate(1213.3 899.0) scale(1 1.0056263736263713)" font-family="Liberation Sans" font-weight="bold" font-size="26.42" fill="#000">USB 4,5</text>
<text transform="translate(1213.1 926.3) scale(1 0.9857438016528919)" font-family="Liberation Sans" font-weight="bold" font-size="26.38" fill="#000">Page 27</text>
<text transform="translate(1450.8 692.0) scale(1 1.0080095432856189)" font-family="Liberation Sans" font-weight="bold" font-size="28.93" fill="#000">USB1.1/2.0</text>
<text transform="translate(1451.3 722.9) scale(1 0.9805683904044504)" font-family="Liberation Sans" font-weight="bold" font-size="17.48" fill="#000">EHCI1:Port 0,1,2,3,4,5,10,11</text>
<text transform="translate(1451.3 750.6) scale(1 0.9408286867910062)" font-family="Liberation Sans" font-weight="bold" font-size="17.46" fill="#000">EHCI2:Port 6,7,8,9</text>
<text transform="translate(487.6 423.5) scale(1 0.9194805194805178)" font-family="Liberation Sans" font-weight="bold" font-size="27.50" fill="#000">LVDS</text>
<text transform="translate(487.7 451.8) scale(1 0.9846424524363329)" font-family="Liberation Sans" font-weight="bold" font-size="26.20" fill="#000">Page 14</text>
<text transform="translate(669.6 412.7) scale(1 0.9466743782533268)" font-family="Liberation Sans" font-weight="bold" font-size="29.88" fill="#000">LVDS</text>
<text transform="translate(418.8 535.3) scale(1 0.9683242917420133)" font-family="Liberation Sans" font-weight="bold" font-size="26.26" fill="#000">CRT BTB conn.</text>
<text transform="translate(460.5 563.6) scale(1 0.9731267689557572)" font-family="Liberation Sans" font-weight="bold" font-size="26.13" fill="#000">Page 27</text>
<text transform="translate(669.7 525.0) scale(1 0.9590909090909111)" font-family="Liberation Sans" font-weight="bold" font-size="29.19" fill="#000">RGB</text>
<text transform="translate(181.0 550.0) scale(1 0.9935127674258111)" font-family="Liberation Sans" font-weight="bold" font-size="26.31" fill="#0000dc">MS-1355O</text>
<text transform="translate(404.1 646.6) scale(1 1.018651853434466)" font-family="Liberation Sans" font-weight="bold" font-size="26.46" fill="#000">HDMI BTB conn.</text>
<text transform="translate(460.5 675.1) scale(1 0.9621927603158087)" font-family="Liberation Sans" font-weight="bold" font-size="26.13" fill="#000">Page 27</text>
<text transform="translate(671.4 635.5) scale(1 0.9915923566878959)" font-family="Liberation Sans" font-weight="bold" font-size="28.24" fill="#000">TMDS</text>
<text transform="translate(181.0 661.2) scale(1 1.0043708304577896)" font-family="Liberation Sans" font-weight="bold" font-size="26.31" fill="#0000dc">MS-1355O</text>
<text transform="translate(531.5 772.6) scale(1 0.9171676920208797)" font-family="Liberation Sans" font-weight="bold" font-size="26.20" fill="#000">WLAN/3G</text>
<text transform="translate(529.6 803.2) scale(1 0.9180018214321857)" font-family="Liberation Sans" font-weight="bold" font-size="26.52" fill="#000">BTB conn.</text>
<text transform="translate(557.6 829.3) scale(1 0.9888082901554394)" font-family="Liberation Sans" font-weight="bold" font-size="26.29" fill="#000">Page 27</text>
<text transform="translate(236.0 801.0) scale(1 1.0341263330598829)" font-family="Liberation Sans" font-weight="bold" font-size="26.39" fill="#0000dc">MS-1355P</text>
<text transform="translate(264.1 898.6) scale(1 0.9469924812030112)" font-family="Liberation Sans" font-weight="bold" font-size="26.55" fill="#000">PCIE-LAN</text>
<text transform="translate(264.1 929.8) scale(1 0.9891304347826075)" font-family="Liberation Sans" font-weight="bold" font-size="26.67" fill="#000">BTB conn.</text>
<text transform="translate(278.8 968.6) scale(1 0.9725092524056268)" font-family="Liberation Sans" font-weight="bold" font-size="26.29" fill="#000">Page 27</text>
<text transform="translate(571.9 970.6) scale(1 1.028870762553319)" font-family="Liberation Sans" font-weight="bold" font-size="28.88" fill="#000">PCI-EXPRESS</text>
<text transform="translate(40.7 939.7) scale(1 0.9833333333333383)" font-family="Liberation Sans" font-weight="bold" font-size="26.44" fill="#0000dc">MS-1355O</text>
<text transform="translate(152.2 1094.0) scale(1 0.9602944336986892)" font-family="Liberation Sans" font-weight="bold" font-size="26.47" fill="#000">Internal SPK</text>
<text transform="translate(153.3 1124.3) scale(1 1.0149414519906297)" font-family="Liberation Sans" font-weight="bold" font-size="26.18" fill="#000">Array MIC</text>
<text transform="translate(180.9 1163.6) scale(1 0.9576735957540835)" font-family="Liberation Sans" font-weight="bold" font-size="26.40" fill="#000">Page 26</text>
<text transform="translate(432.8 1122.1) scale(1 1.0397558561530826)" font-family="Liberation Sans" font-weight="bold" font-size="26.24" fill="#000">ALC888S-VC2</text>
<text transform="translate(473.5 1163.6) scale(1 0.9508050351287982)" font-family="Liberation Sans" font-weight="bold" font-size="26.59" fill="#000">Page 26</text>
<text transform="translate(669.6 1110.3) scale(1 0.9782763532763514)" font-family="Liberation Sans" font-weight="bold" font-size="28.54" fill="#000">Azalia</text>
<text transform="translate(446.3 1260.9) scale(1 0.9717425431711172)" font-family="Liberation Sans" font-weight="bold" font-size="26.46" fill="#000">IO BTB conn.</text>
<text transform="translate(473.5 1289.0) scale(1 0.9293179156908664)" font-family="Liberation Sans" font-weight="bold" font-size="26.59" fill="#000">Page 27</text>
<text transform="translate(208.8 1289.0) scale(1 0.9569797250058312)" font-family="Liberation Sans" font-weight="bold" font-size="26.42" fill="#0000dc">MS-1355N</text>
<text transform="translate(822.8 705.9) scale(1 0.9691103789126863)" font-family="Liberation Serif" font-weight="bold" font-size="44.71" fill="#000">PCH(HM55)</text>
<text transform="translate(850.7 775.2) scale(1 1.037629037629039)" font-family="Liberation Serif" font-weight="bold" font-size="44.39" fill="#000">BGA1071</text>
<text transform="translate(864.9 898.8) scale(1 1.0135493372606756)" font-family="Liberation Sans" font-weight="bold" font-size="26.22" fill="#000">Page 15 ~ 23</text>
<text transform="translate(1116.0 1222.1) scale(1 0.9729729729729669)" font-family="Liberation Sans" font-weight="bold" font-size="30.83" fill="#000">SATA</text>
<text transform="translate(1254.6 1218.5) scale(1 0.9956913435174282)" font-family="Liberation Sans" font-weight="bold" font-size="27.07" fill="#000">HDD</text>
<text transform="translate(1240.9 1246.0) scale(1 0.9991510538641649)" font-family="Liberation Sans" font-weight="bold" font-size="26.59" fill="#000">Page 27</text>
<text transform="translate(879.7 1417.6) scale(1 0.9874595992243045)" font-family="Liberation Sans" font-weight="bold" font-size="29.08" fill="#000">SPI</text>
<text transform="translate(1130.1 1445.0) scale(1 0.9951185656448793)" font-family="Liberation Sans" font-weight="bold" font-size="28.86" fill="#000">LPC BUS</text>
<text transform="translate(1296.4 1386.8) scale(1 1.0042744656917857)" font-family="Liberation Sans" font-weight="bold" font-size="26.46" fill="#000">LPC DEBUG</text>
<text transform="translate(1324.8 1414.3) scale(1 1.0131551901336031)" font-family="Liberation Sans" font-weight="bold" font-size="26.23" fill="#000">Page 24</text>
<text transform="translate(710.7 1442.3) scale(1 1.0018030513176128)" font-family="Liberation Sans" font-weight="bold" font-size="26.52" fill="#000">BIOS</text>
<text transform="translate(697.4 1470.3) scale(1 1.0226804123711317)" font-family="Liberation Sans" font-weight="bold" font-size="26.36" fill="#000">Page 15</text>
<text transform="translate(698.9 1539.2) scale(1 1.0312998923253986)" font-family="Liberation Sans" font-weight="bold" font-size="26.14" fill="#000">TP &amp; LED</text>
<text transform="translate(712.0 1568.5) scale(1 1.0136917136917107)" font-family="Liberation Sans" font-weight="bold" font-size="26.21" fill="#000">Page 27</text>
<text transform="translate(697.3 1637.9) scale(1 0.9717324377273985)" font-family="Liberation Sans" font-weight="bold" font-size="26.58" fill="#000">Keyboard</text>
<text transform="translate(712.0 1665.9) scale(1 1.0247401247401218)" font-family="Liberation Sans" font-weight="bold" font-size="25.93" fill="#000">Page 24</text>
<text transform="translate(990.0 1567.7) scale(1 1.011081932773105)" font-family="Liberation Sans" font-weight="bold" font-size="26.28" fill="#000">KBC</text>
<text transform="translate(962.0 1596.1) scale(1 1.012803532008827)" font-family="Liberation Sans" font-weight="bold" font-size="26.24" fill="#000">ENE 3310C</text>
<text transform="translate(976.7 1624.1) scale(1 1.0258064516129017)" font-family="Liberation Sans" font-weight="bold" font-size="25.90" fill="#000">Page 24</text>
<text transform="translate(1158.2 1569.8) scale(1 0.9942076147087494)" font-family="Liberation Sans" font-weight="bold" font-size="28.88" fill="#000">SPI</text>
<text transform="translate(1240.8 1581.5) scale(1 1.0016183035714277)" font-family="Liberation Sans" font-weight="bold" font-size="26.53" fill="#000">EC ROM</text>
<text transform="translate(1240.9 1609.5) scale(1 1.0258064516129017)" font-family="Liberation Sans" font-weight="bold" font-size="25.90" fill="#000">Page 24</text>
<text transform="translate(473.6 1553.9) scale(1 0.9993397837222514)" font-family="Liberation Sans" font-weight="bold" font-size="26.59" fill="#0000dc">MS-1355Q</text>
<text transform="translate(1632.1 1498.8) scale(1 1.00563971102307)" font-family="Liberation Sans" font-weight="bold" font-size="26.42" fill="#000">MS-1355N</text>
<text transform="translate(1632.7 1546.0) scale(1 0.9889432662678926)" font-family="Liberation Sans" font-weight="bold" font-size="17.41" fill="#000">Earphone Jack</text>
<text transform="translate(1632.7 1567.4) scale(1 0.984126984126977)" font-family="Liberation Sans" font-weight="bold" font-size="17.50" fill="#000">MIC Jack</text>
<text transform="translate(1632.9 1588.7) scale(1 1.0122448979591763)" font-family="Liberation Sans" font-weight="bold" font-size="17.50" fill="#000">USB Conn. x 2</text>
<text transform="translate(1632.7 1609.4) scale(1 0.984126984126977)" font-family="Liberation Sans" font-weight="bold" font-size="17.50" fill="#000">DC Jack</text>
<text transform="translate(1799.4 1498.8) scale(1 1.0073666092943179)" font-family="Liberation Sans" font-weight="bold" font-size="26.38" fill="#000">MS-1355O</text>
<text transform="translate(1800.0 1533.0) scale(1 0.98172276511038)" font-family="Liberation Sans" font-weight="bold" font-size="17.54" fill="#000">HDMI Level Shifter</text>
<text transform="translate(1800.0 1553.7) scale(1 1.0122448979591763)" font-family="Liberation Sans" font-weight="bold" font-size="17.50" fill="#000">PTN3300</text>
<text transform="translate(1800.0 1587.6) scale(1 1.0269151138716281)" font-family="Liberation Sans" font-weight="bold" font-size="17.50" fill="#000">LAN :</text>
<text transform="translate(1800.0 1609.4) scale(1 1.0122448979591763)" font-family="Liberation Sans" font-weight="bold" font-size="17.50" fill="#000">RTL8111DL</text>
<text transform="translate(1800.0 1643.6) scale(1 0.984126984126977)" font-family="Liberation Sans" font-weight="bold" font-size="17.50" fill="#000">Memory card :</text>
<text transform="translate(1800.0 1664.3) scale(1 1.0122448979591763)" font-family="Liberation Sans" font-weight="bold" font-size="17.50" fill="#000">ENE6250</text>
<text transform="translate(1800.5 1699.6) scale(1 1.0122448979591763)" font-family="Liberation Sans" font-weight="bold" font-size="17.50" fill="#000">CRT Conn.</text>
<text transform="translate(1994.3 1499.0) scale(1 1.0070549630844923)" font-family="Liberation Sans" font-weight="bold" font-size="26.39" fill="#000">MS-1355P</text>
<text transform="translate(1994.9 1532.7) scale(1 1.0023756964154236)" font-family="Liberation Sans" font-weight="bold" font-size="17.67" fill="#000">MINI PCIE Conn.</text>
<text transform="translate(1995.9 1553.4) scale(1 1.0122448979591763)" font-family="Liberation Sans" font-weight="bold" font-size="17.50" fill="#000">x2</text>
<text transform="translate(2161.8 1499.0) scale(1 0.998544131028202)" font-family="Liberation Sans" font-weight="bold" font-size="26.61" fill="#000">MS-1355Q</text>
<text transform="translate(2162.5 1532.7) scale(1 1.0269151138716281)" font-family="Liberation Sans" font-weight="bold" font-size="17.50" fill="#000">LED</text>
<text transform="translate(2163.5 1553.4) scale(1 1.0269151138716281)" font-family="Liberation Sans" font-weight="bold" font-size="17.50" fill="#000">TP</text>
<text transform="translate(2134.0 1618.0) scale(1 0.9300488122356005)" font-family="Liberation Sans" font-weight="bold" font-size="23.50" fill="#000">MSI CORPORATION</text>
<text transform="translate(2036.0 1659.0) scale(1 0.9326448362720405)" font-family="Liberation Sans" font-weight="bold" font-size="23.44" fill="#000">BLOCK DIAGRAM</text>
<text transform="translate(2063.8 1701.0) scale(1 0.9426935659760111)" font-family="Liberation Sans" font-weight="bold" font-size="23.19" fill="#000">MS-13551</text>
<text x="1983.0" y="1635.9" font-family="Liberation Sans" font-weight="normal" font-size="12.18" fill="#000" stroke="#000" stroke-width="0.45">Title</text>
<text x="1982.6" y="1677.5" font-family="Liberation Sans" font-weight="normal" font-size="12.11" fill="#000" stroke="#000" stroke-width="0.45">Size</text>
<text x="2036.6" y="1677.8" font-family="Liberation Sans" font-weight="normal" font-size="12.46" fill="#000" stroke="#000" stroke-width="0.45">Document Number</text>
<text x="2441.4" y="1677.8" font-family="Liberation Sans" font-weight="normal" font-size="12.60" fill="#000" stroke="#000" stroke-width="0.45">Rev</text>
<text x="1995.8" y="1693.8" font-family="Liberation Sans" font-weight="normal" font-size="15.53" fill="#000" stroke="#000" stroke-width="0.45">Custom</text>
<text x="2455.7" y="1694.1" font-family="Liberation Sans" font-weight="normal" font-size="15.93" fill="#000" stroke="#000" stroke-width="0.45">0A</text>
<text x="1982.2" y="1719.6" font-family="Liberation Sans" font-weight="normal" font-size="12.57" fill="#000" stroke="#000" stroke-width="0.45">Date:</text>
<text x="2039.0" y="1719.8" font-family="Liberation Sans" font-weight="normal" font-size="12.44" fill="#000" stroke="#000" stroke-width="0.45">Tuesday, October 06, 2009</text>
<text x="2260.6" y="1719.8" font-family="Liberation Sans" font-weight="normal" font-size="12.38" fill="#000" stroke="#000" stroke-width="0.45">Sheet</text>
<text x="2329.7" y="1719.8" font-family="Liberation Sans" font-weight="normal" font-size="12.60" fill="#000" stroke="#000" stroke-width="0.45">1</text>
<text x="2371.7" y="1719.8" font-family="Liberation Sans" font-weight="normal" font-size="12.41" fill="#000" stroke="#000" stroke-width="0.45">of</text>
<text x="2413.6" y="1720.1" font-family="Liberation Sans" font-weight="normal" font-size="13.63" fill="#000" stroke="#000" stroke-width="0.45">39</text>
</svg></body></html>
